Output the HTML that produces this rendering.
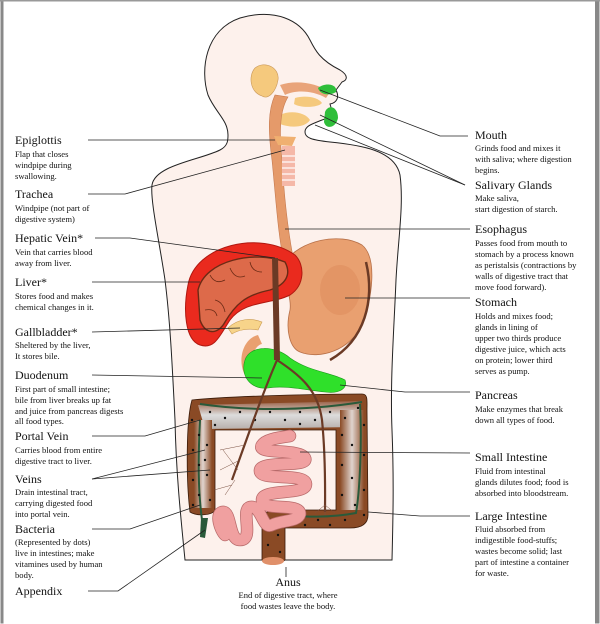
<!DOCTYPE html>
<html><head><meta charset="utf-8"><style>
html,body{margin:0;padding:0;background:#fff}
svg{display:block}
text{font-family:"Liberation Serif",serif;fill:#111}
.t{font-size:12px}
.d{font-size:8.6px}
</style></head><body>
<svg width="600" height="624" viewBox="0 0 600 624" xmlns="http://www.w3.org/2000/svg">
<defs>
<linearGradient id="lg" x1="0" y1="0" x2="1" y2="0"><stop offset="0" stop-color="#8a4a25"/><stop offset="0.5" stop-color="#e0d4ce"/><stop offset="1" stop-color="#8a4a25"/></linearGradient>
<linearGradient id="tg" x1="0" y1="0" x2="0" y2="1"><stop offset="0" stop-color="#9a6045"/><stop offset="0.5" stop-color="#dcdcdc"/><stop offset="1" stop-color="#b8b0ac"/></linearGradient>
</defs>
<rect x="0" y="0" width="600" height="624" fill="#fff"/>
<rect x="0.5" y="0.5" width="3" height="623" fill="#888"/>
<rect x="595" y="0.5" width="4.5" height="623" fill="#888"/>
<rect x="0" y="0" width="600" height="1.5" fill="#999"/>
<!-- body -->
<path d="M228,135 C228,120 215,112 208,95 C200,70 205,30 240,18 C275,8 300,20 310,40 C315,50 320,60 340,70 C348,75 348,80 342,82 L336,90 C340,98 336,103 330,104 C333,112 330,118 322,120 C312,124 305,126 305,132 C305,138 312,140 330,142 C360,145 395,150 400,175 C404,205 398,240 396,280 C394,330 390,380 392,430 C394,480 393,520 392,560 L185,560 C180,510 176,470 175,420 C172,360 170,320 165,280 C160,245 150,200 152,185 C155,165 200,160 220,150 C228,146 228,140 228,135 Z" fill="#fdf1ec" stroke="#222" stroke-width="1"/>
<!-- head organs -->
<path d="M255,68 C265,60 280,68 278,80 C276,92 268,100 262,96 C250,92 248,76 255,68 Z" fill="#f5c97d" stroke="#c9985a" stroke-width="0.6"/>
<path d="M280,85 C295,80 315,82 330,92 L326,98 C312,90 295,90 285,95 Z" fill="#e9a47a"/>
<path d="M295,98 C305,95 318,97 322,103 C318,108 300,108 294,104 Z" fill="#f5c97d"/>
<path d="M280,115 C290,110 305,112 310,120 C305,128 290,128 280,124 Z" fill="#f5c97d"/>
<path d="M318,88 C325,82 338,84 336,92 C330,96 320,95 318,88 Z" fill="#2fbe3a"/>
<path d="M325,112 C328,104 338,106 338,118 C336,128 326,130 324,122 Z" fill="#2fbe3a"/>
<!-- esophagus -->
<path d="M275,95 C268,110 268,130 272,160 C276,200 278,235 284,262 L294,262 C288,232 284,195 282,160 C279,130 280,110 288,97 Z" fill="#e59a6a" stroke="#c57a50" stroke-width="0.6"/>
<!-- epiglottis & trachea -->
<path d="M274,136 L296,137 L292,146 L278,145 Z" fill="#f0b070"/>
<rect x="282" y="146" width="13" height="40" fill="#f5b8a8"/>
<g stroke="#fff" stroke-width="1.2"><line x1="282" y1="156" x2="295" y2="156"/><line x1="282" y1="162" x2="295" y2="162"/><line x1="282" y1="168" x2="295" y2="168"/><line x1="282" y1="174" x2="295" y2="174"/><line x1="282" y1="180" x2="295" y2="180"/></g>
<!-- stomach -->
<path d="M285,262 C300,240 340,232 362,245 C378,258 372,300 362,325 C350,350 320,360 300,352 C290,348 285,330 290,310 C292,295 282,282 285,262 Z" fill="#e9a070" stroke="#b77048" stroke-width="0.8"/>
<ellipse cx="340" cy="290" rx="20" ry="25" fill="#dd8a5a" opacity="0.5"/>
<path d="M366,262 C375,300 365,340 330,360" stroke="#6b3a25" stroke-width="2.5" fill="none"/>
<!-- liver -->
<path d="M188,285 C195,245 260,230 295,255 C305,265 305,285 290,295 C270,305 245,300 230,320 C220,335 215,350 200,345 C185,340 183,310 188,285 Z" fill="#ea2a1e" stroke="#b01810" stroke-width="1"/>
<path d="M198,290 C205,260 255,250 285,262 C292,275 285,285 270,290 C245,295 235,305 225,322 C218,335 205,335 200,320 Z" fill="#dd6a4a" stroke="#6b2a15" stroke-width="1.4"/>
<g stroke="#6b2a15" stroke-width="0.8" fill="none"><path d="M210,275 q5,10 15,5 M230,268 q5,12 15,8 M250,262 q2,10 12,10 M215,300 q8,2 10,12 M205,310 q10,-2 12,6"/></g>
<path d="M228,328 C238,318 252,318 262,322 L258,330 C248,328 238,330 232,334 Z" fill="#f7d48a" stroke="#c99a50" stroke-width="0.6"/>
<!-- duodenum -->
<path d="M258,335 C238,340 235,375 255,385 C270,392 285,385 290,375 L282,368 C275,378 262,378 254,370 C248,360 255,345 262,344 Z" fill="#e9a070"/>
<!-- pancreas -->
<path d="M245,360 C250,345 275,345 290,358 C310,372 330,372 345,380 C348,388 340,394 325,392 C305,390 285,385 268,388 C250,390 240,375 245,360 Z" fill="#2fe02a" stroke="#1a9a1a" stroke-width="0.6"/>
<!-- large intestine -->
<path d="M192,400 C230,396 320,394 362,394 C368,394 367,400 367,410 L368,515 C368,525 360,528 350,528 L285,528 L285,560 C280,565 268,565 262,560 L262,518 C264,510 275,510 285,510 L336,510 L336,430 L215,430 L215,510 C212,516 196,516 190,512 C186,480 186,420 192,400 Z" fill="#8a4a25" stroke="#3a1a08" stroke-width="0.8"/>
<path d="M198,405 L360,401 L360,427 L205,429 Z" fill="url(#tg)"/>
<rect x="194" y="420" width="18" height="88" fill="url(#lg)"/>
<rect x="340" y="410" width="24" height="100" fill="url(#lg)"/>
<path d="M200,404 C240,410 300,412 362,402 M360,404 C362,440 360,490 356,513 C330,518 300,517 290,515 M200,420 C198,460 198,490 202,520" stroke="#2a5a3a" stroke-width="2" fill="none"/>
<path d="M201,518 L208,518 L205,538 L200,537 Z" fill="#2a5a3a"/>
<ellipse cx="273" cy="561" rx="11" ry="4" fill="#e0906a"/>
<g fill="#111">
<circle cx="210" cy="412" r="1.2"/><circle cx="225" cy="418" r="1.2"/><circle cx="240" cy="412" r="1.2"/><circle cx="255" cy="420" r="1.2"/><circle cx="270" cy="412" r="1.2"/><circle cx="285" cy="420" r="1.2"/><circle cx="300" cy="412" r="1.2"/><circle cx="315" cy="420" r="1.2"/><circle cx="330" cy="412" r="1.2"/><circle cx="345" cy="418" r="1.2"/><circle cx="358" cy="408" r="1.2"/><circle cx="215" cy="425" r="1.2"/><circle cx="300" cy="424" r="1.2"/>
<circle cx="192" cy="420" r="1.2"/><circle cx="199" cy="435" r="1.2"/><circle cx="193" cy="450" r="1.2"/><circle cx="207" cy="445" r="1.2"/><circle cx="199" cy="465" r="1.2"/><circle cx="193" cy="480" r="1.2"/><circle cx="207" cy="475" r="1.2"/><circle cx="199" cy="495" r="1.2"/><circle cx="193" cy="505" r="1.2"/><circle cx="210" cy="500" r="1.2"/><circle cx="205" cy="460" r="1.2"/>
<circle cx="364" cy="425" r="1.2"/><circle cx="342" cy="435" r="1.2"/><circle cx="352" cy="445" r="1.2"/><circle cx="364" cy="455" r="1.2"/><circle cx="342" cy="465" r="1.2"/><circle cx="352" cy="478" r="1.2"/><circle cx="364" cy="490" r="1.2"/><circle cx="342" cy="495" r="1.2"/><circle cx="355" cy="505" r="1.2"/><circle cx="364" cy="515" r="1.2"/>
<circle cx="295" cy="520" r="1.2"/><circle cx="305" cy="525" r="1.2"/><circle cx="318" cy="520" r="1.2"/><circle cx="330" cy="525" r="1.2"/><circle cx="345" cy="520" r="1.2"/><circle cx="270" cy="520" r="1.2"/><circle cx="278" cy="535" r="1.2"/><circle cx="268" cy="545" r="1.2"/><circle cx="280" cy="552" r="1.2"/>
</g>
<!-- veins/portal -->
<path d="M272,258 L278,258 L280,360 L274,360 Z" fill="#6b3a25"/>
<path d="M277,360 C262,395 250,430 232,480 M277,360 C300,375 318,390 322,420 C326,460 325,500 325,512" stroke="#6b3a25" stroke-width="2.2" fill="none"/>
<g stroke="#7a5040" stroke-width="0.5" fill="none"><path d="M245,445 l-25,5 M240,460 l-20,10 M238,470 l-15,-20 M235,480 l-10,15 M232,485 l-18,5 M325,505 l-10,8 M325,505 l10,8 M325,505 l0,10"/></g>
<!-- small intestine -->
<g stroke="#b86a6a" stroke-width="12.5" fill="none" stroke-linecap="round" stroke-linejoin="round">
<path d="M290,436 C275,438 265,440 262,445 C255,455 300,448 305,458 C310,468 262,460 260,470 C258,482 305,472 306,484 C306,496 262,488 262,500 C262,512 300,502 300,514 C298,522 282,520 272,525 C262,530 262,505 250,507 C240,510 255,540 240,540 C228,540 232,510 222,512 C215,514 220,530 225,535"/>
</g>
<g stroke="#f0a0a0" stroke-width="11" fill="none" stroke-linecap="round" stroke-linejoin="round">
<path d="M290,436 C275,438 265,440 262,445 C255,455 300,448 305,458 C310,468 262,460 260,470 C258,482 305,472 306,484 C306,496 262,488 262,500 C262,512 300,502 300,514 C298,522 282,520 272,525 C262,530 262,505 250,507 C240,510 255,540 240,540 C228,540 232,510 222,512 C215,514 220,530 225,535"/>
</g>
<!-- leader lines -->
<g stroke="#222" stroke-width="0.8" fill="none">
<polyline points="88,140 275,140"/>
<polyline points="88,194 125,194 285,150"/>
<polyline points="95,238 130,238 275,258"/>
<polyline points="92,282 200,282"/>
<polyline points="92,332 240,328"/>
<polyline points="92,375 262,378"/>
<polyline points="92,436 145,436 200,420"/>
<polyline points="92,479 210,470"/>
<polyline points="92,479 205,450"/>
<polyline points="92,529 130,529 200,505"/>
<polyline points="88,591 118,591 205,530"/>
<polyline points="468,136 440,136 320,90"/>
<polyline points="465,185 320,115"/>
<polyline points="465,185 315,125"/>
<polyline points="470,229 285,229"/>
<polyline points="470,298 345,298"/>
<polyline points="470,392 405,392 340,385"/>
<polyline points="470,453 300,452"/>
<polyline points="470,516 420,516 368,512"/>
<line x1="286" y1="567" x2="286" y2="577"/>
</g>
<!-- left text -->
<text class="t" x="15" y="144">Epiglottis</text>
<text class="d" x="15" y="157">Flap that closes</text><text class="d" x="15" y="168">windpipe during</text><text class="d" x="15" y="179">swallowing.</text>
<text class="t" x="15" y="198">Trachea</text>
<text class="d" x="15" y="211">Windpipe (not part of</text><text class="d" x="15" y="222">digestive system)</text>
<text class="t" x="15" y="242">Hepatic Vein*</text>
<text class="d" x="15" y="255">Vein that carries blood</text><text class="d" x="15" y="266">away from liver.</text>
<text class="t" x="15" y="286">Liver*</text>
<text class="d" x="15" y="299">Stores food and makes</text><text class="d" x="15" y="310">chemical changes in it.</text>
<text class="t" x="15" y="336">Gallbladder*</text>
<text class="d" x="15" y="348">Sheltered by the liver,</text><text class="d" x="15" y="359">It stores bile.</text>
<text class="t" x="15" y="379">Duodenum</text>
<text class="d" x="15" y="392">First part of small intestine;</text><text class="d" x="15" y="403">bile from liver breaks up fat</text><text class="d" x="15" y="414">and juice from pancreas digests</text><text class="d" x="15" y="424">all food types.</text>
<text class="t" x="15" y="440">Portal Vein</text>
<text class="d" x="15" y="453">Carries blood from entire</text><text class="d" x="15" y="464">digestive tract to liver.</text>
<text class="t" x="15" y="483">Veins</text>
<text class="d" x="15" y="495">Drain intestinal tract,</text><text class="d" x="15" y="506">carrying digested food</text><text class="d" x="15" y="517">into portal vein.</text>
<text class="t" x="15" y="533">Bacteria</text>
<text class="d" x="15" y="545">(Represented by dots)</text><text class="d" x="15" y="556">live in intestines; make</text><text class="d" x="15" y="567">vitamines used by human</text><text class="d" x="15" y="578">body.</text>
<text class="t" x="15" y="595">Appendix</text>
<!-- right text -->
<text class="t" x="475" y="139">Mouth</text>
<text class="d" x="475" y="151">Grinds food and mixes it</text><text class="d" x="475" y="162">with saliva; where digestion</text><text class="d" x="475" y="173">begins.</text>
<text class="t" x="475" y="189">Salivary Glands</text>
<text class="d" x="475" y="201">Make saliva,</text><text class="d" x="475" y="212">start digestion of starch.</text>
<text class="t" x="475" y="233">Esophagus</text>
<text class="d" x="475" y="246">Passes food from mouth to</text><text class="d" x="475" y="257">stomach by a process known</text><text class="d" x="475" y="268">as peristalsis (contractions by</text><text class="d" x="475" y="279">walls of digestive tract that</text><text class="d" x="475" y="290">move food forward).</text>
<text class="t" x="475" y="306">Stomach</text>
<text class="d" x="475" y="319">Holds and mixes food;</text><text class="d" x="475" y="330">glands in lining of</text><text class="d" x="475" y="341">upper two thirds produce</text><text class="d" x="475" y="352">digestive juice, which acts</text><text class="d" x="475" y="363">on protein; lower third</text><text class="d" x="475" y="374">serves as pump.</text>
<text class="t" x="475" y="399">Pancreas</text>
<text class="d" x="475" y="412">Make enzymes that break</text><text class="d" x="475" y="423">down all types of food.</text>
<text class="t" x="475" y="461">Small Intestine</text>
<text class="d" x="475" y="474">Fluid from intestinal</text><text class="d" x="475" y="485">glands dilutes food; food is</text><text class="d" x="475" y="496">absorbed into bloodstream.</text>
<text class="t" x="475" y="520">Large Intestine</text>
<text class="d" x="475" y="532">Fluid absorbed from</text><text class="d" x="475" y="543">indigestible food-stuffs;</text><text class="d" x="475" y="554">wastes become solid; last</text><text class="d" x="475" y="565">part of intestine a container</text><text class="d" x="475" y="576">for waste.</text>
<!-- anus -->
<text class="t" x="288" y="586" text-anchor="middle">Anus</text>
<text class="d" x="288" y="598" text-anchor="middle">End of digestive tract, where</text>
<text class="d" x="288" y="609" text-anchor="middle">food wastes leave the body.</text>
</svg>
</body></html>
